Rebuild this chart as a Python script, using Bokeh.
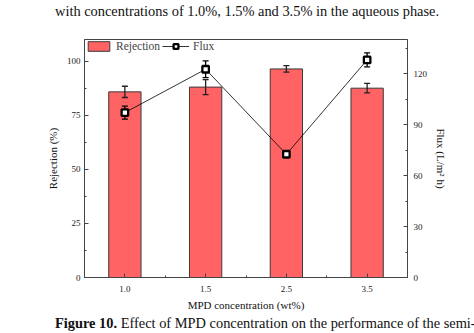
import numpy as np
from bokeh.plotting import figure
from bokeh.layouts import column
from bokeh.models import (Range1d, LinearAxis, FixedTicker, Legend, LegendItem,
                          ColumnDataSource, Div)
from bokeh.embed import file_html
from bokeh.resources import INLINE

# ---- data ----
categories = ["1.0", "1.5", "2.5", "3.5"]
rejection = [85.8, 88.0, 96.4, 87.5]
rejection_err = [2.6, 3.5, 1.5, 2.2]
flux = [97.0, 122.5, 72.5, 128.0]
flux_err = [3.8, 4.9, 1.8, 4.1]

left_ticks = [0, 25, 50, 75, 100]
right_ticks = [0, 30, 60, 90, 120]

caption_top = "with concentrations of 1.0%, 1.5% and 3.5% in the aqueous phase."
caption_bold = "Figure 10."
caption_rest = "Effect of MPD concentration on the performance of the semi-aromatic polyamide membranes."

FONT = "Liberation Serif"
AX = "#444444"
W = 474
TOP_H, MAIN_H, BOT_H = 25, 288, 20

x = np.arange(len(categories)) + 0.5
src = ColumnDataSource(dict(
    x=x, rej=rejection,
    rej_lo=np.array(rejection) - np.array(rejection_err),
    rej_hi=np.array(rejection) + np.array(rejection_err),
    flux=flux,
    flux_lo=np.array(flux) - np.array(flux_err),
    flux_hi=np.array(flux) + np.array(flux_err),
))

p = figure(width=W, height=MAIN_H, output_backend="svg", toolbar_location=None,
           x_range=Range1d(0, len(categories)), y_range=Range1d(0, 110),
           min_border_left=84, min_border_right=67, min_border_top=14,
           min_border_bottom=36)
p.extra_y_ranges = {"flux": Range1d(0, 140)}
p.xgrid.visible = False
p.ygrid.visible = False
p.outline_line_color = AX
p.outline_line_width = 1

# bars
bars = p.vbar(x="x", top="rej", width=0.4, source=src, fill_color="#FF6363",
              line_color="#3a3a3a", line_width=1)
# rejection error bars
p.segment(x0="x", y0="rej_lo", x1="x", y1="rej_hi", source=src,
          line_color="#222222", line_width=1.3)
for col in ("rej_lo", "rej_hi"):
    p.scatter(x="x", y=col, source=src, marker="dash", size=6,
              line_color="#222222", line_width=1.3)

# flux line and points
fl = p.line(x="x", y="flux", source=src, y_range_name="flux",
            line_color="black", line_width=0.8)
p.segment(x0="x", y0="flux_lo", x1="x", y1="flux_hi", source=src,
          y_range_name="flux", line_color="black", line_width=1.3)
for col in ("flux_lo", "flux_hi"):
    p.scatter(x="x", y=col, source=src, y_range_name="flux", marker="dash",
              size=6, line_color="black", line_width=1.3)
fm = p.scatter(x="x", y="flux", source=src, y_range_name="flux", marker="square",
               size=6.5, fill_color="white", line_color="black", line_width=2.3)

# axes
def style(ax, size="9px"):
    ax.axis_line_color = AX
    ax.axis_line_width = 1
    ax.major_tick_line_color = AX
    ax.minor_tick_line_color = AX
    ax.major_tick_in = 4
    ax.major_tick_out = 0
    ax.minor_tick_in = 2
    ax.minor_tick_out = 0
    ax.major_label_text_font = FONT
    ax.major_label_text_font_size = size
    ax.major_label_text_color = "#222222"
    ax.axis_label_text_font = FONT
    ax.axis_label_text_font_size = "11px"
    ax.axis_label_text_font_style = "normal"
    ax.axis_label_text_color = "#111111"

xa = p.xaxis[0]
xa.ticker = FixedTicker(ticks=list(x), minor_ticks=list(np.arange(1, len(categories))))
xa.major_label_overrides = {float(v): c for v, c in zip(x, categories)}
xa.axis_label = "MPD concentration (wt%)"
style(xa)
xa.major_label_standoff = 8
xa.axis_label_standoff = 4

ya = p.yaxis[0]
ya.ticker = FixedTicker(ticks=left_ticks,
                        minor_ticks=[t + 12.5 for t in left_ticks])
ya.axis_label = "Rejection (%)"
style(ya)
ya.major_label_standoff = 4

ra = LinearAxis(y_range_name="flux", axis_label="Flux (L/m\u00b2 h)")
ra.ticker = FixedTicker(ticks=right_ticks, minor_ticks=[t + 15 for t in right_ticks])
style(ra)
ra.major_label_standoff = 6
p.add_layout(ra, "right")

# legend
legend = Legend(items=[LegendItem(label="Rejection", renderers=[bars]),
                       LegendItem(label="Flux", renderers=[fl, fm])],
                orientation="horizontal", location="top_left",
                border_line_color=None, background_fill_alpha=0,
                label_text_font=FONT, label_text_font_size="11.5px",
                glyph_width=27, glyph_height=12, label_standoff=4,
                spacing=2, margin=1, padding=2, label_height=12)
p.add_layout(legend)

HOST = {"font-family": "Liberation Serif, serif", "font-size": "14px",
        "color": "#111111", "white-space": "nowrap", "overflow": "hidden",
        "line-height": "20px"}
INNER = ("font-family:Liberation Serif,serif;color:#111;"
         "white-space:nowrap;line-height:20px;")

top = Div(text=f'<span style="display:block;{INNER}font-size:14.4px;padding:1px 0 0 55px;">{caption_top}</span>',
          width=W, height=TOP_H, margin=0, styles=HOST)
bot = Div(text=(f'<span style="display:block;{INNER}font-size:14.4px;padding:0 0 0 55px;">'
                f'<b style="font-family:Liberation Serif,serif;">{caption_bold}</b> {caption_rest}</span>'),
          width=W, height=BOT_H, margin=0, styles=HOST)

layout = column(top, p, bot, spacing=0, margin=0)
open("out.html", "w").write(file_html(layout, INLINE))
